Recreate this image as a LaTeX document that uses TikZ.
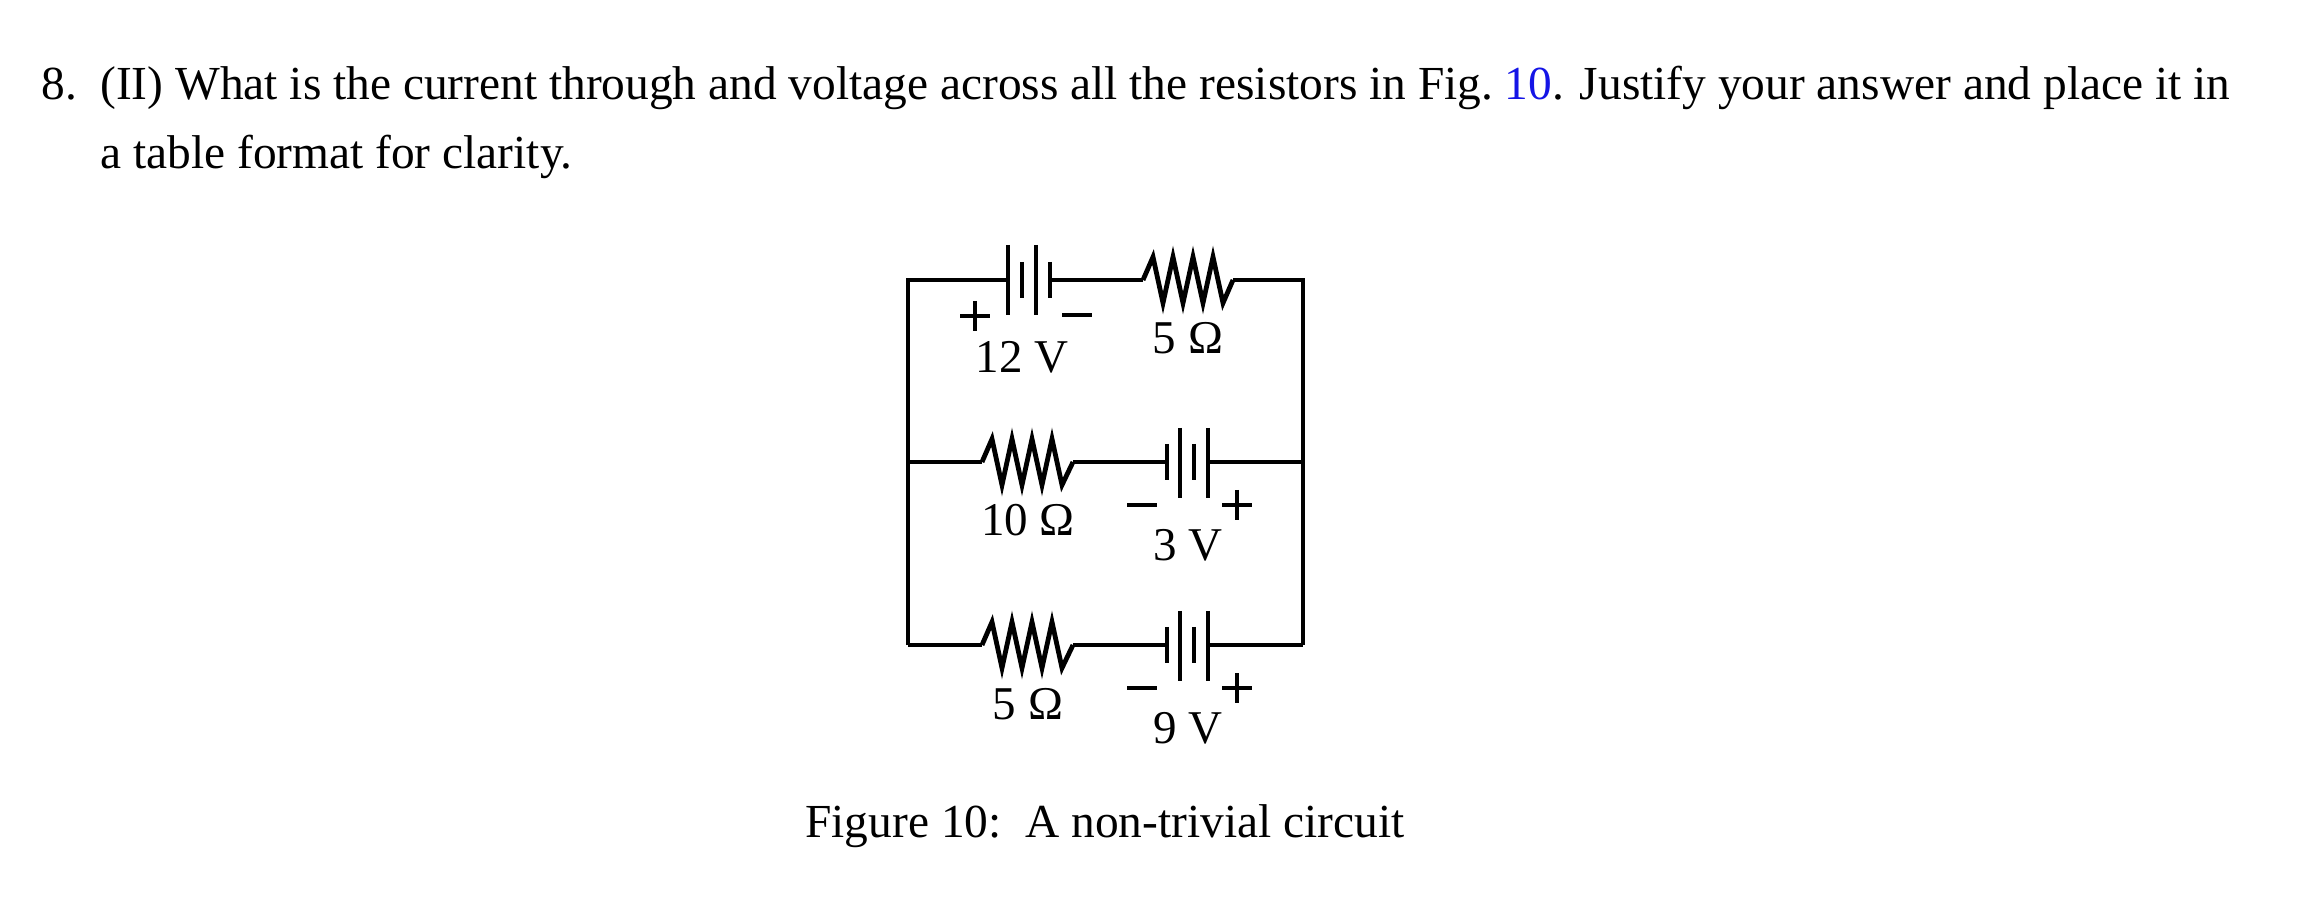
\documentclass[tikz,border=0pt]{standalone}
\usepackage{fontspec}
\setmainfont{Liberation Serif}
\begin{document}
\begin{tikzpicture}[x=0.5pt,y=-0.5pt,
  wire/.style={line width=2.4pt},
  lbl/.style={font=\fontsize{23.5}{26}\selectfont,inner sep=0pt},
  sgn/.style={line width=2.4pt},
  txt/.style={font=\fontsize{23.7}{28}\selectfont,inner sep=0pt,anchor=base west}]
\useasboundingbox (0,0) rectangle (2304,914);
\newcommand\myres[3]{% x0 x1 y
  \draw[wire,line join=miter] (#1,#3) -- ++(10,-23)
    \foreach \i in {1,...,7}{ -- ++(10,{(-1)^(\i)*(-46)}) } -- (#2,#3);}
\newcommand\mypm[3]{% plus at x y
  \draw[sgn] (#1-15,#2) -- (#1+15,#2) (#1,#2-15) -- (#1,#2+15);}
\newcommand\mymin[2]{\draw[sgn] (#1-15,#2) -- (#1+15,#2);}
% text
\node[txt] (qn) at (41,100) {8.};
\node[txt] (q) at (100,100) {(II) What is the current through and voltage across all the resistors in Fig.~\textcolor[RGB]{20,20,230}{10}. Justify your answer and place it in};
\node[txt] (q2) at (100,169) {a table format for clarity.};
\node[txt] (cap) at (805,837) {Figure 10:\ \ A non-trivial circuit};
% corners
\coordinate (TL) at (908,280); \coordinate (TR) at (1303,280);
\coordinate (ML) at (908,462); \coordinate (MR) at (1303,462);
\coordinate (BL) at (908,645); \coordinate (BR) at (1303,645);
% top branch
\coordinate (b1a) at (1008,280); \coordinate (b1b) at (1050,280);
\coordinate (r1a) at (1143,280); \coordinate (r1b) at (1233,280);
\draw[wire,line join=miter] (BL) -- (TL) -- (b1a);
\draw[wire] (b1b) -- (r1a);
\draw[wire,line join=miter] (r1b) -- (TR) -- (BR);
\draw[wire] (1008,245) -- (1008,315) (1036,245) -- (1036,315) (1022,262) -- (1022,298) (1050,262) -- (1050,298);
\myres{1143}{1233}{280}
\mypm{975}{316}{}
\mymin{1077}{315}
\node[lbl] (v12) at (1022,357) {12 V};
\node[lbl] (r5a) at (1188,338) {5 Ω};
% middle branch
\coordinate (r2a) at (982,462); \coordinate (r2b) at (1073,462);
\coordinate (b2a) at (1167,462); \coordinate (b2b) at (1208,462);
\draw[wire] (ML) -- (r2a); \draw[wire] (r2b) -- (b2a); \draw[wire] (b2b) -- (MR);
\myres{982}{1073}{462}
\draw[wire] (1167,444) -- (1167,480) (1180,428) -- (1180,498) (1194,444) -- (1194,480) (1208,428) -- (1208,498);
\mymin{1142}{505}
\mypm{1237}{505}{}
\node[lbl] (r10) at (1028,520) {10 Ω};
\node[lbl] (v3) at (1188,545) {3 V};
% bottom branch
\coordinate (r3a) at (982,645); \coordinate (r3b) at (1073,645);
\coordinate (b3a) at (1167,645); \coordinate (b3b) at (1208,645);
\draw[wire] (BL) -- (r3a); \draw[wire] (r3b) -- (b3a); \draw[wire] (b3b) -- (BR);
\myres{982}{1073}{645}
\draw[wire] (1167,627) -- (1167,663) (1180,611) -- (1180,681) (1194,627) -- (1194,663) (1208,611) -- (1208,681);
\mymin{1142}{688}
\mypm{1237}{688}{}
\node[lbl] (r5b) at (1028,704) {5 Ω};
\node[lbl] (v9) at (1188,728) {9 V};
\end{tikzpicture}
\end{document}
